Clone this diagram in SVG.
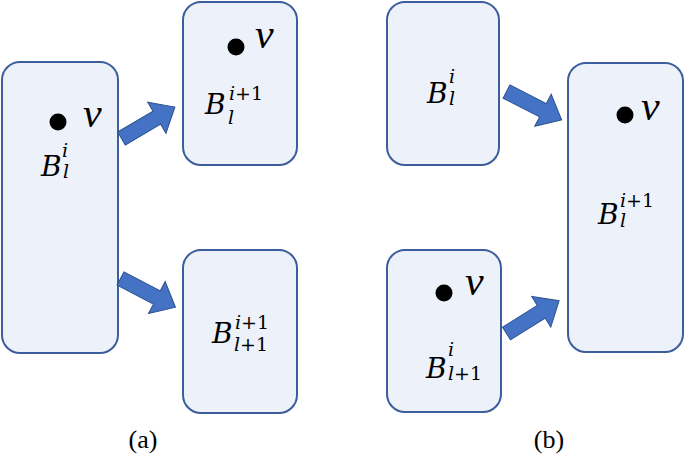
<svg xmlns="http://www.w3.org/2000/svg" width="685" height="461" viewBox="0 0 685 461">
<style>
.box{fill:#EDF1F9;stroke:#3D5E9C;stroke-width:2}
.dot{fill:#000}
.m{font-family:"DejaVu Serif",serif;font-style:italic;fill:#000}
.B{font-size:28px}
.v{font-family:"Liberation Serif",serif;font-style:italic;font-size:42px}
.s{font-size:19px}
.u{font-style:normal}
.cap{font-family:"Liberation Serif",serif;font-size:26px;fill:#000;text-anchor:middle}
.arr{fill:#4472C4;stroke:#2F528F;stroke-width:1}
</style>
<defs>
<path id="ar" d="M0,-7.5 L41,-7.5 L41,-18 L62,0 L41,18 L41,7.5 L0,7.5 Z"/>
</defs>
<g id="a-big">
<rect class="box" x="2" y="62" width="116" height="291" rx="18"/>
<circle class="dot" cx="58" cy="122" r="8.5"/>
<text class="m v" x="83" y="127">v</text>
<text class="m B" x="41" y="176">B</text>
<text class="m s" x="62" y="157">i</text>
<text class="m s" x="63" y="178">l</text>
</g>
<g id="a-top">
<rect class="box" x="183" y="2" width="114" height="163" rx="18"/>
<circle class="dot" cx="236" cy="47" r="8.5"/>
<text class="m v" x="255" y="48">v</text>
<text class="m B" x="205" y="114">B</text>
<text class="m s" x="229" y="100">i<tspan class="u">+1</tspan></text>
<text class="m s" x="228" y="124">l</text>
</g>
<g id="a-bottom">
<rect class="box" x="183" y="250" width="114" height="163" rx="18"/>
<text class="m B" x="212" y="343">B</text>
<text class="m s" x="235" y="329">i<tspan class="u">+1</tspan></text>
<text class="m s" x="234" y="351">l<tspan class="u">+1</tspan></text>
</g>
<g id="b-top">
<rect class="box" x="387" y="2" width="112" height="163" rx="18"/>
<text class="m B" x="427" y="103">B</text>
<text class="m s" x="449" y="83">i</text>
<text class="m s" x="449" y="105">l</text>
</g>
<g id="b-bottom">
<rect class="box" x="387" y="250" width="114" height="162" rx="18"/>
<circle class="dot" cx="444" cy="293" r="8.5"/>
<text class="m v" x="465" y="295">v</text>
<text class="m B" x="426" y="378">B</text>
<text class="m s" x="448" y="356">i</text>
<text class="m s" x="448" y="380">l<tspan class="u">+1</tspan></text>
</g>
<g id="b-big">
<rect class="box" x="568" y="63" width="115" height="289" rx="18"/>
<circle class="dot" cx="625" cy="115" r="8.5"/>
<text class="m v" x="641" y="120">v</text>
<text class="m B" x="598" y="224">B</text>
<text class="m s" x="620" y="207">i<tspan class="u">+1</tspan></text>
<text class="m s" x="620" y="227">l</text>
</g>
<g id="connectors">
<use href="#ar" class="arr" transform="translate(121.5,138.5) rotate(-30.5)"/>
<use href="#ar" class="arr" transform="translate(120.5,278.5) rotate(27.6)"/>
<use href="#ar" class="arr" transform="translate(506.5,91.5) rotate(27.2)"/>
<use href="#ar" class="arr" transform="translate(506.5,333.5) rotate(-32)"/>
</g>
<text class="cap" x="143" y="448">(a)</text>
<text class="cap" x="549" y="448">(b)</text>
</svg>
